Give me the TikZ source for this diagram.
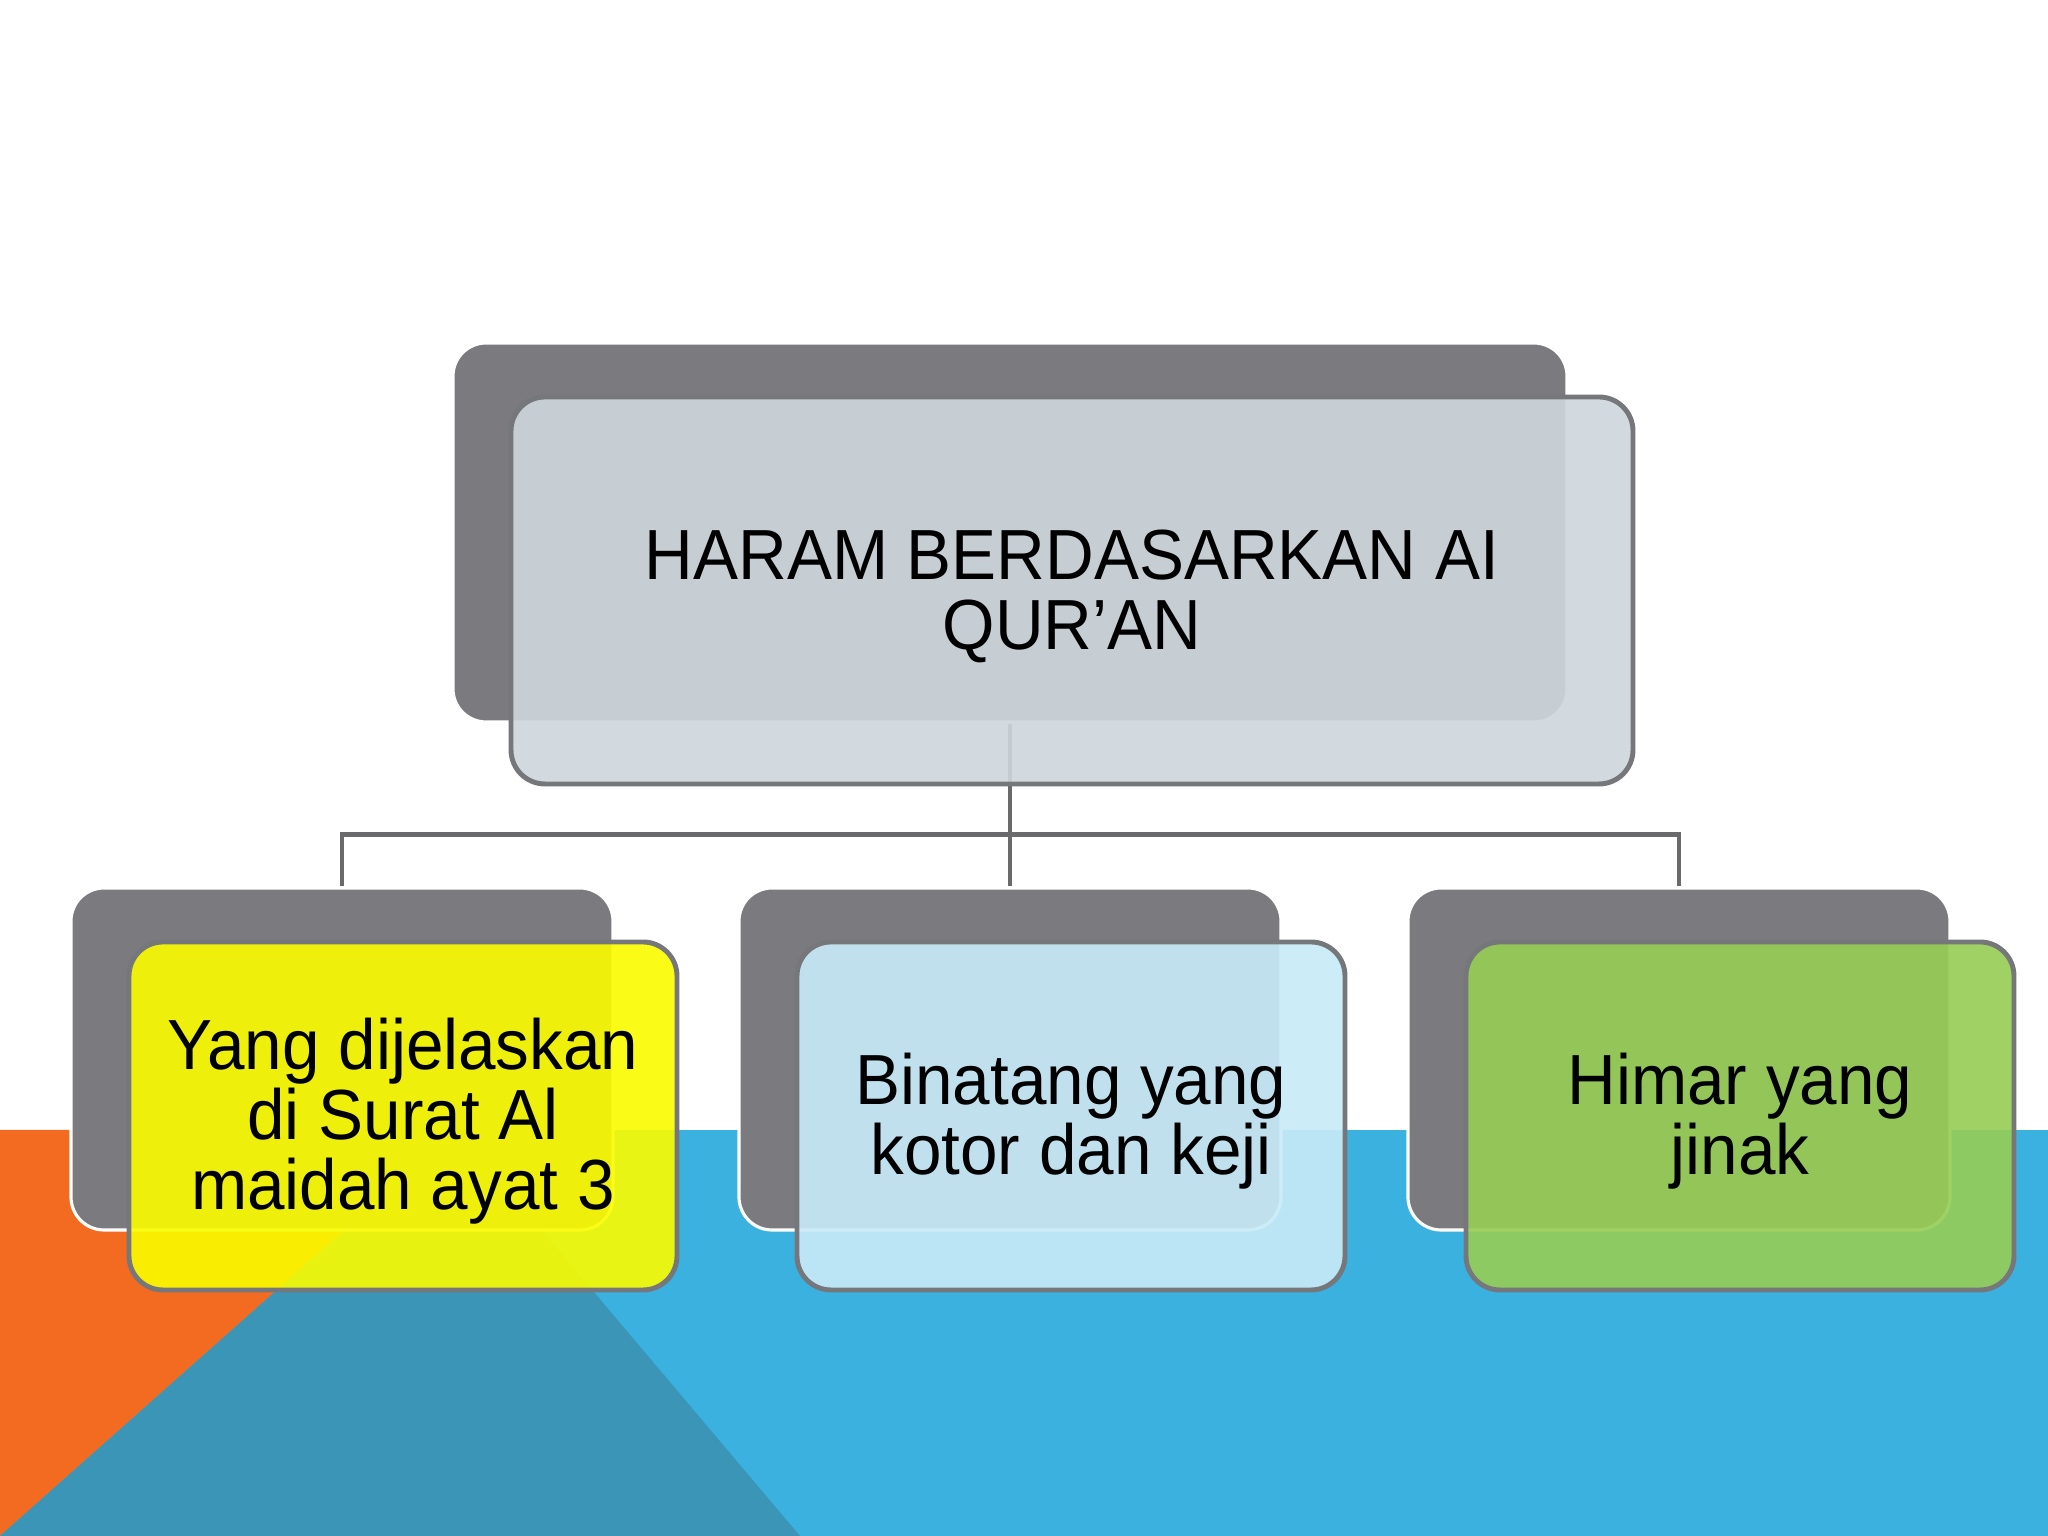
\documentclass[tikz,border=0pt]{standalone}
\usepackage{fontspec}
\setmainfont{Liberation Sans}[FakeStretch=0.95]
\usepackage{tikz}
\definecolor{slidegray}{RGB}{123,123,127}
\definecolor{edgegray}{RGB}{118,119,122}
\definecolor{linegray}{RGB}{106,106,108}
\definecolor{bandblue}{RGB}{59,177,224}
\definecolor{bandorange}{RGB}{243,107,32}
\definecolor{bandteal}{RGB}{59,149,182}
\definecolor{boxgray}{RGB}{206,214,220}
\definecolor{boxyellow}{RGB}{250,252,0}
\definecolor{boxblue}{RGB}{200,235,248}
\definecolor{boxgreen}{RGB}{150,205,85}
\newcommand\capstrut{\rule{0pt}{17.6pt}}

\begin{document}
\begin{tikzpicture}[
	back/.style={
		rectangle, rounded corners=0.33cm,
		fill=slidegray, draw=white, line width=0.9pt
	},
	front/.style={
		rectangle, rounded corners=0.34cm,
		draw=edgegray, line width=1.4pt,
		fill opacity=0.91, text opacity=1,
		align=center, text=black,
		font=\fontsize{20.2pt}{19.8pt}\selectfont
	},
	link/.style={draw=linegray, line width=1.3pt}
	]
	\useasboundingbox (0,0) rectangle (20.48,15.36);
	\fill[white] (0,0) rectangle (20.48,15.36);
	\fill[bandblue] (0,0) rectangle (20.48,4.06);
	\fill[bandorange] (0,0) -- (0,4.06) -- (4.57,4.06) -- cycle;
	\fill[bandteal] (0,0) -- (4.57,4.06) -- (8.00,0) -- cycle;

	\node[back, minimum width=11.14cm, minimum height=3.79cm] (0) at (10.10,10.035) {};
	\node[back, minimum width=5.42cm, minimum height=3.42cm] (1) at (3.42,4.77) {};
	\node[back, minimum width=5.42cm, minimum height=3.42cm] (2) at (10.10,4.77) {};
	\node[back, minimum width=5.42cm, minimum height=3.42cm] (3) at (16.79,4.77) {};
	\foreach \i in {1,2,3}
	{
		\draw[link] (0.south) -- ++(0,-1.11) -| (\i.north);
	}

	\node[front, fill=boxgray, minimum width=11.22cm, minimum height=3.87cm]
		(A) at ([shift={(0.62,-0.58)}]0.center) {\capstrut HARAM BERDASARKAN AI\\QUR’AN};
	\node[front, fill=boxyellow, minimum width=5.48cm, minimum height=3.48cm]
		(B) at ([shift={(0.61,-0.57)}]1.center) {\capstrut Yang dijelaskan\\di Surat Al\\maidah ayat 3};
	\node[front, fill=boxblue, minimum width=5.48cm, minimum height=3.48cm]
		(C) at ([shift={(0.61,-0.57)}]2.center) {\capstrut Binatang yang\\kotor dan keji};
	\node[front, fill=boxgreen, minimum width=5.48cm, minimum height=3.48cm]
		(D) at ([shift={(0.61,-0.57)}]3.center) {\capstrut Himar yang\\jinak};
\end{tikzpicture}
\end{document}
